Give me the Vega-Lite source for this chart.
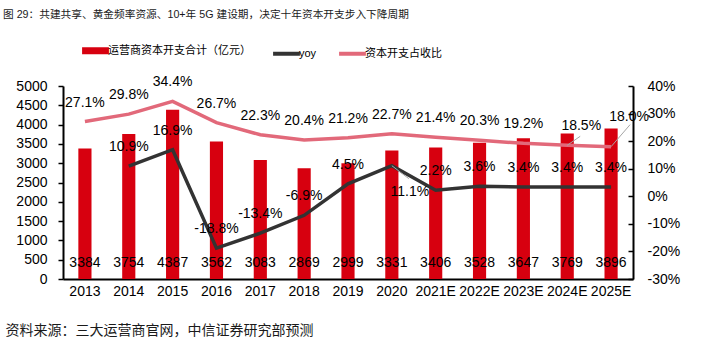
{
  "$schema": "https://vega.github.io/schema/vega-lite/v6.json",
  "width": 570,
  "height": 193,
  "autosize": {"type": "none"},
  "padding": {"left": 63, "top": 86, "right": 74, "bottom": 65},
  "background": "white",
  "title": {
    "text": "图 29：共建共享、黄金频率资源、10+年 5G 建设期，决定十年资本开支步入下降周期",
    "anchor": "start",
    "frame": "group",
    "dx": -60,
    "font": "Liberation Sans, Noto Sans CJK SC",
    "fontSize": 10.7,
    "fontWeight": "normal",
    "color": "#1a1a1a",
    "offset": 24
  },
  "data": {
    "values": [
      {"year": "2013", "capex": 3384, "yoy": null, "ratio": 0.271},
      {"year": "2014", "capex": 3754, "yoy": 0.109, "ratio": 0.298},
      {"year": "2015", "capex": 4387, "yoy": 0.169, "ratio": 0.344},
      {"year": "2016", "capex": 3562, "yoy": -0.188, "ratio": 0.267},
      {"year": "2017", "capex": 3083, "yoy": -0.134, "ratio": 0.223},
      {"year": "2018", "capex": 2869, "yoy": -0.069, "ratio": 0.204},
      {"year": "2019", "capex": 2999, "yoy": 0.045, "ratio": 0.212},
      {"year": "2020", "capex": 3331, "yoy": 0.111, "ratio": 0.227},
      {"year": "2021E", "capex": 3406, "yoy": 0.022, "ratio": 0.214},
      {"year": "2022E", "capex": 3528, "yoy": 0.036, "ratio": 0.203},
      {"year": "2023E", "capex": 3647, "yoy": 0.034, "ratio": 0.192},
      {"year": "2024E", "capex": 3769, "yoy": 0.034, "ratio": 0.185},
      {"year": "2025E", "capex": 3896, "yoy": 0.034, "ratio": 0.180}
    ]
  },
  "layer": [
    {
      "layer": [
        {
          "mark": {"type": "bar", "color": "#d7000f"},
          "encoding": {
            "x": {
              "field": "year", "type": "nominal", "sort": null,
              "scale": {"paddingInner": 0.7, "paddingOuter": 0.35},
              "axis": {
                "title": "资料来源：三大运营商官网，中信证券研究部预测",
                "titleX": -58, "titleY": 51, "titleAlign": "left", "titleBaseline": "middle",
                "titleFont": "Noto Sans CJK SC", "titleFontSize": 14, "titleFontWeight": "normal", "titleColor": "#1a1a1a",
                "labelAngle": 0, "ticks": false, "labelPadding": 5, "labelOverlap": false,
                "domainColor": "#000", "domainWidth": 2,
                "labelFont": "Liberation Sans", "labelFontSize": 14, "labelColor": "#000"
              }
            },
            "y": {
              "field": "capex", "type": "quantitative",
              "scale": {"domain": [0, 5000], "nice": false},
              "axis": {
                "title": null, "orient": "left", "grid": false, "format": "d", "labelOverlap": false,
                "values": [0, 500, 1000, 1500, 2000, 2500, 3000, 3500, 4000, 4500, 5000],
                "domainColor": "#000", "domainWidth": 2, "tickColor": "#000", "tickWidth": 1.5, "tickSize": 5,
                "labelPadding": 11, "labelFont": "Liberation Sans", "labelFontSize": 14, "labelColor": "#000"
              }
            },
            "color": {
              "datum": "运营商资本开支合计（亿元）",
              "type": "nominal",
              "scale": {
                "domain": ["运营商资本开支合计（亿元）", "yoy", "资本开支占收比"],
                "range": ["#d7000f", "#333333", "#e2697a"]
              },
              "legend": {
                "title": null, "orient": "none", "direction": "horizontal",
                "legendX": 27, "legendY": -41,
                "symbolType": "stroke", "symbolSize": 720,
                "labelFont": "Liberation Sans, Noto Sans CJK SC", "labelFontSize": 11, "labelColor": "#000",
                "labelLimit": 400,
                "labelOffset": 7, "columnPadding": 14,
                "encode": {"symbols": {"update": {"strokeWidth": {"signal": "datum.value === '运营商资本开支合计（亿元）' ? 7 : 4"}}}}
              }
            }
          }
        },
        {
          "mark": {"type": "text", "dy": -16, "font": "Liberation Sans", "fontSize": 14, "color": "#000"},
          "encoding": {
            "x": {"field": "year", "type": "nominal", "sort": null},
            "y": {
              "datum": 0, "type": "quantitative",
              "axis": {
                "title": null, "orient": "left", "grid": false, "format": "d", "labelOverlap": false,
                "values": [0, 500, 1000, 1500, 2000, 2500, 3000, 3500, 4000, 4500, 5000],
                "domainColor": "#000", "domainWidth": 2, "tickColor": "#000", "tickWidth": 1.5, "tickSize": 5,
                "labelPadding": 11, "labelFont": "Liberation Sans", "labelFontSize": 14, "labelColor": "#000"
              }
            },
            "text": {"field": "capex", "type": "quantitative", "format": "d"}
          }
        }
      ]
    },
    {
      "layer": [
        {
          "mark": {"type": "line", "strokeWidth": 3.5},
          "encoding": {
            "x": {"field": "year", "type": "nominal", "sort": null},
            "y": {
              "field": "yoy", "type": "quantitative",
              "scale": {"domain": [-0.3, 0.4], "nice": false},
              "axis": {
                "title": null, "orient": "right", "grid": false, "format": ".0%", "labelOverlap": false,
                "values": [-0.3, -0.2, -0.1, 0, 0.1, 0.2, 0.3, 0.4],
                "domainColor": "#000", "domainWidth": 2, "tickColor": "#000", "tickWidth": 1.5, "tickSize": -5,
                "labelPadding": 19, "labelFont": "Liberation Sans", "labelFontSize": 14, "labelColor": "#000"
              }
            },
            "color": {"datum": "yoy", "type": "nominal"}
          }
        },
        {
          "mark": {"type": "line", "strokeWidth": 3.5},
          "encoding": {
            "x": {"field": "year", "type": "nominal", "sort": null},
            "y": {
              "field": "ratio", "type": "quantitative",
              "axis": {
                "title": null, "orient": "right", "grid": false, "format": ".0%", "labelOverlap": false,
                "values": [-0.3, -0.2, -0.1, 0, 0.1, 0.2, 0.3, 0.4],
                "domainColor": "#000", "domainWidth": 2, "tickColor": "#000", "tickWidth": 1.5, "tickSize": -5,
                "labelPadding": 19, "labelFont": "Liberation Sans", "labelFontSize": 14, "labelColor": "#000"
              }
            },
            "color": {"datum": "资本开支占收比", "type": "nominal"}
          }
        },
        {
          "transform": [{"filter": "datum.yoy != null && datum.year != '2020'"}],
          "mark": {"type": "text", "dy": -19, "font": "Liberation Sans", "fontSize": 14, "color": "#000"},
          "encoding": {
            "x": {"field": "year", "type": "nominal", "sort": null},
            "y": {
              "field": "yoy", "type": "quantitative",
              "axis": {
                "title": null, "orient": "right", "grid": false, "format": ".0%", "labelOverlap": false,
                "values": [-0.3, -0.2, -0.1, 0, 0.1, 0.2, 0.3, 0.4],
                "domainColor": "#000", "domainWidth": 2, "tickColor": "#000", "tickWidth": 1.5, "tickSize": -5,
                "labelPadding": 19, "labelFont": "Liberation Sans", "labelFontSize": 14, "labelColor": "#000"
              }
            },
            "text": {"field": "yoy", "type": "quantitative", "format": ".1%"}
          }
        },
        {
          "transform": [{"filter": "datum.year == '2020'"}],
          "mark": {"type": "rule", "color": "#a6a6a6", "strokeWidth": 1, "x2Offset": 17, "y2Offset": 13},
          "encoding": {
            "x": {"field": "year", "type": "nominal", "sort": null},
            "x2": {"field": "year"},
            "y": {
              "field": "yoy", "type": "quantitative",
              "axis": {
                "title": null, "orient": "right", "grid": false, "format": ".0%", "labelOverlap": false,
                "values": [-0.3, -0.2, -0.1, 0, 0.1, 0.2, 0.3, 0.4],
                "domainColor": "#000", "domainWidth": 2, "tickColor": "#000", "tickWidth": 1.5, "tickSize": -5,
                "labelPadding": 19, "labelFont": "Liberation Sans", "labelFontSize": 14, "labelColor": "#000"
              }
            },
            "y2": {"field": "yoy"}
          }
        },
        {
          "transform": [{"filter": "datum.year == '2020'"}],
          "mark": {"type": "text", "dx": 18, "dy": 26, "font": "Liberation Sans", "fontSize": 14, "color": "#000"},
          "encoding": {
            "x": {"field": "year", "type": "nominal", "sort": null},
            "y": {
              "field": "yoy", "type": "quantitative",
              "axis": {
                "title": null, "orient": "right", "grid": false, "format": ".0%", "labelOverlap": false,
                "values": [-0.3, -0.2, -0.1, 0, 0.1, 0.2, 0.3, 0.4],
                "domainColor": "#000", "domainWidth": 2, "tickColor": "#000", "tickWidth": 1.5, "tickSize": -5,
                "labelPadding": 19, "labelFont": "Liberation Sans", "labelFontSize": 14, "labelColor": "#000"
              }
            },
            "text": {"field": "yoy", "type": "quantitative", "format": ".1%"}
          }
        },
        {
          "transform": [{"filter": "datum.year != '2024E' && datum.year != '2025E'"}],
          "mark": {"type": "text", "dy": -19, "font": "Liberation Sans", "fontSize": 14, "color": "#000"},
          "encoding": {
            "x": {"field": "year", "type": "nominal", "sort": null},
            "y": {
              "field": "ratio", "type": "quantitative",
              "axis": {
                "title": null, "orient": "right", "grid": false, "format": ".0%", "labelOverlap": false,
                "values": [-0.3, -0.2, -0.1, 0, 0.1, 0.2, 0.3, 0.4],
                "domainColor": "#000", "domainWidth": 2, "tickColor": "#000", "tickWidth": 1.5, "tickSize": -5,
                "labelPadding": 19, "labelFont": "Liberation Sans", "labelFontSize": 14, "labelColor": "#000"
              }
            },
            "text": {"field": "ratio", "type": "quantitative", "format": ".1%"}
          }
        },
        {
          "transform": [{"filter": "datum.year == '2024E'"}],
          "mark": {"type": "rule", "color": "#a6a6a6", "strokeWidth": 1, "x2Offset": 13, "y2Offset": -9},
          "encoding": {
            "x": {"field": "year", "type": "nominal", "sort": null},
            "x2": {"field": "year"},
            "y": {
              "field": "ratio", "type": "quantitative",
              "axis": {
                "title": null, "orient": "right", "grid": false, "format": ".0%", "labelOverlap": false,
                "values": [-0.3, -0.2, -0.1, 0, 0.1, 0.2, 0.3, 0.4],
                "domainColor": "#000", "domainWidth": 2, "tickColor": "#000", "tickWidth": 1.5, "tickSize": -5,
                "labelPadding": 19, "labelFont": "Liberation Sans", "labelFontSize": 14, "labelColor": "#000"
              }
            },
            "y2": {"field": "ratio"}
          }
        },
        {
          "transform": [{"filter": "datum.year == '2025E'"}],
          "mark": {"type": "rule", "color": "#a6a6a6", "strokeWidth": 1, "x2Offset": 19, "y2Offset": -22},
          "encoding": {
            "x": {"field": "year", "type": "nominal", "sort": null},
            "x2": {"field": "year"},
            "y": {
              "field": "ratio", "type": "quantitative",
              "axis": {
                "title": null, "orient": "right", "grid": false, "format": ".0%", "labelOverlap": false,
                "values": [-0.3, -0.2, -0.1, 0, 0.1, 0.2, 0.3, 0.4],
                "domainColor": "#000", "domainWidth": 2, "tickColor": "#000", "tickWidth": 1.5, "tickSize": -5,
                "labelPadding": 19, "labelFont": "Liberation Sans", "labelFontSize": 14, "labelColor": "#000"
              }
            },
            "y2": {"field": "ratio"}
          }
        },
        {
          "transform": [{"filter": "datum.year == '2024E'"}],
          "mark": {"type": "text", "dx": 14, "dy": -19, "font": "Liberation Sans", "fontSize": 14, "color": "#000"},
          "encoding": {
            "x": {"field": "year", "type": "nominal", "sort": null},
            "y": {
              "field": "ratio", "type": "quantitative",
              "axis": {
                "title": null, "orient": "right", "grid": false, "format": ".0%", "labelOverlap": false,
                "values": [-0.3, -0.2, -0.1, 0, 0.1, 0.2, 0.3, 0.4],
                "domainColor": "#000", "domainWidth": 2, "tickColor": "#000", "tickWidth": 1.5, "tickSize": -5,
                "labelPadding": 19, "labelFont": "Liberation Sans", "labelFontSize": 14, "labelColor": "#000"
              }
            },
            "text": {"field": "ratio", "type": "quantitative", "format": ".1%"}
          }
        },
        {
          "transform": [{"filter": "datum.year == '2025E'"}],
          "mark": {"type": "text", "dx": 18, "dy": -30, "font": "Liberation Sans", "fontSize": 14, "color": "#000"},
          "encoding": {
            "x": {"field": "year", "type": "nominal", "sort": null},
            "y": {
              "field": "ratio", "type": "quantitative",
              "axis": {
                "title": null, "orient": "right", "grid": false, "format": ".0%", "labelOverlap": false,
                "values": [-0.3, -0.2, -0.1, 0, 0.1, 0.2, 0.3, 0.4],
                "domainColor": "#000", "domainWidth": 2, "tickColor": "#000", "tickWidth": 1.5, "tickSize": -5,
                "labelPadding": 19, "labelFont": "Liberation Sans", "labelFontSize": 14, "labelColor": "#000"
              }
            },
            "text": {"field": "ratio", "type": "quantitative", "format": ".1%"}
          }
        }
      ]
    }
  ],
  "resolve": {"scale": {"y": "independent"}},
  "config": {
    "view": {"stroke": null},
    "locale": {
      "number": {"decimal": ".", "thousands": ",", "grouping": [3], "currency": ["$", ""], "minus": "-"}
    }
  }
}
